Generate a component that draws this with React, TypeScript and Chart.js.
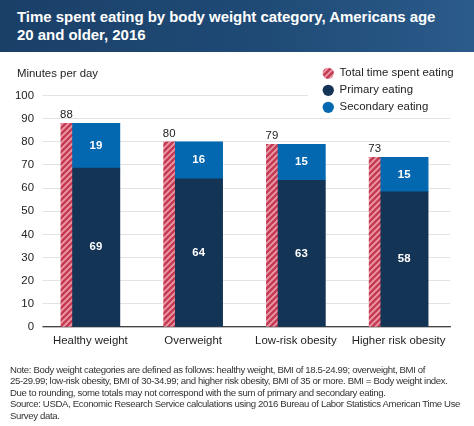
import { useEffect, useRef } from 'react';
import { Chart, registerables } from 'chart.js';

Chart.register(...registerables);

const categories = ['Healthy weight', 'Overweight', 'Low-risk obesity', 'Higher risk obesity'];
const totalEating = [88, 80, 78.9, 73.3];
const primaryEating = [68.6, 64, 63.4, 58.4];
const secondaryEating = [19.4, 16, 15.5, 14.9];
const totalLabels = ['88', '80', '79', '73'];
const primaryLabels = ['69', '64', '63', '58'];
const secondaryLabels = ['19', '16', '15', '15'];
const yTicks = [0, 10, 20, 30, 40, 50, 60, 70, 80, 90, 100];

const titleLines = ['Time spent eating by body weight category, Americans age', '20 and older, 2016'];
const noteLines = [
  'Note: Body weight categories are defined as follows: healthy weight, BMI of 18.5-24.99; overweight, BMI of',
  '25-29.99; low-risk obesity, BMI of 30-34.99; and higher risk obesity, BMI of 35 or more. BMI = Body weight index.',
  'Due to rounding, some totals may not correspond with the sum of primary and secondary eating.',
  'Source: USDA, Economic Research Service calculations using 2016 Bureau of Labor Statistics American Time Use',
  'Survey data.',
];

const FONT = '"Liberation Sans", Arial, sans-serif';
const SIZE = 11.4;
const NAVY = '#143456';
const BLUE = '#0468b1';

// diagonal red/pink stripes
const makeHatch = () => {
  const c = document.createElement('canvas');
  c.width = 6;
  c.height = 6;
  const g = c.getContext('2d')!;
  g.fillStyle = '#c33c54';
  g.fillRect(0, 0, 6, 6);
  g.strokeStyle = '#ee9aa8';
  g.lineWidth = 1.7;
  g.beginPath();
  g.moveTo(-1.5, 1.5);
  g.lineTo(1.5, -1.5);
  g.moveTo(-1.5, 7.5);
  g.lineTo(7.5, -1.5);
  g.moveTo(4.5, 7.5);
  g.lineTo(7.5, 4.5);
  g.stroke();
  return g.createPattern(c, 'repeat')!;
};

const layoutPlugin = {
  id: 'layoutTweaks',
  beforeLayout(chart: any) {
    // draw the legend above the white mask below
    const legend = chart.legend;
    legend._layers = () => [{ z: 1, draw: () => legend.draw() }];
  },
  afterLayout(chart: any) {
    // legend sits over the top right corner of the plot
    const legend = chart.legend;
    const w = legend.right - legend.left;
    legend.left = 317;
    legend.right = 317 + w;
    legend.top = 62;
  },
  beforeDatasetsDraw(chart: any) {
    // gridlines start clear of the tick labels and stop before the legend
    const { ctx, chartArea } = chart;
    ctx.save();
    ctx.fillStyle = '#fff';
    ctx.fillRect(chartArea.left - 1, chartArea.top - 2, 4.5, chartArea.bottom - chartArea.top + 4);
    ctx.fillRect(308, chartArea.top - 2, 170, 6);
    ctx.restore();
  },
};

const valueLabels = {
  id: 'valueLabels',
  afterDatasetsDraw(chart: any) {
    const { ctx } = chart;
    ctx.save();
    ctx.textAlign = 'center';
    ctx.textBaseline = 'middle';
    chart.getDatasetMeta(0).data.forEach((bar: any, i: number) => {
      ctx.font = `${SIZE}px ${FONT}`;
      ctx.fillStyle = '#222';
      ctx.fillText(totalLabels[i], bar.x, bar.y - 8);
    });
    [primaryLabels, secondaryLabels].forEach((labels, k) => {
      chart.getDatasetMeta(k + 1).data.forEach((bar: any, i: number) => {
        ctx.font = `bold ${SIZE}px ${FONT}`;
        ctx.fillStyle = '#fff';
        ctx.fillText(labels[i], bar.x, (bar.y + bar.base) / 2);
      });
    });
    ctx.restore();
  },
};

const App = () => {
  const chartRef = useRef<HTMLCanvasElement>(null);

  useEffect(() => {
    if (!chartRef.current) return;
    const hatch = makeHatch();
    const points = (values: number[]) => values.map((y, x) => ({ x, y }));

    const chart = new Chart(chartRef.current, {
      type: 'bar',
      data: {
        labels: categories,
        datasets: [
          {
            label: 'Total time spent eating',
            data: points(totalEating),
            backgroundColor: hatch,
            stack: 'total',
            barThickness: 11,
            xAxisID: 'bars',
          },
          {
            label: 'Primary eating',
            data: points(primaryEating),
            backgroundColor: NAVY,
            stack: 'parts',
            barThickness: 48,
            xAxisID: 'bars',
          },
          {
            label: 'Secondary eating',
            data: points(secondaryEating),
            backgroundColor: BLUE,
            stack: 'parts',
            barThickness: 48,
            xAxisID: 'bars',
          },
        ] as any,
      },
      options: {
        responsive: false,
        animation: false,
        events: [],
        layout: { padding: { left: 0, right: 24, top: 95.5, bottom: 0 } },
        scales: {
          x: {
            type: 'category',
            grid: { display: false, tickLength: 0 },
            border: { color: '#444', width: 1.2 },
            ticks: { color: '#222', font: { family: FONT, size: SIZE }, padding: 7, maxRotation: 0, autoSkip: false },
            afterFit: (s: any) => {
              s.height = 99;
            },
          },
          // the visible axis holds the labels, this one places the bars left of the label centre
          bars: {
            type: 'linear',
            axis: 'x',
            display: false,
            offset: false,
            min: -0.32,
            max: 3.68,
          },
          y: {
            stacked: true,
            min: 0,
            max: 100,
            border: { display: false },
            grid: { color: '#e3e3e3', lineWidth: 1, tickLength: 0 },
            afterBuildTicks: (s: any) => {
              s.ticks = yTicks.map((value) => ({ value }));
            },
            ticks: { color: '#222', font: { family: FONT, size: SIZE }, padding: 5 },
            afterFit: (s: any) => {
              s.width = 39;
            },
          },
        },
        plugins: {
          tooltip: { enabled: false },
          legend: {
            position: 'chartArea',
            align: 'start',
            labels: {
              usePointStyle: true,
              pointStyle: 'circle',
              pointStyleWidth: 11.3,
              boxHeight: 8,
              padding: 5.6,
              color: '#222',
              font: { family: FONT, size: SIZE },
            },
          },
        },
      } as any,
      plugins: [layoutPlugin, valueLabels],
    });

    return () => chart.destroy();
  }, []);

  return (
    <div style={{ position: 'absolute', left: 0, top: 0, width: 474, height: 426, background: '#fff', overflow: 'hidden', fontFamily: FONT }}>
      <canvas ref={chartRef} width={474} height={426} style={{ position: 'absolute', left: 0, top: 0 }} />
      <div
        style={{
          position: 'absolute',
          left: 0,
          top: 0,
          width: 474,
          height: 52,
          background: 'linear-gradient(90deg, #1a4068 0%, #1f4a76 55%, #2b5b8a 100%)',
          color: '#fff',
          fontWeight: 'bold',
          fontSize: 15,
          lineHeight: '18px',
          letterSpacing: -0.04,
          paddingTop: 8,
          paddingLeft: 17,
          boxSizing: 'border-box',
        }}
      >
        {titleLines.map((t) => (
          <div key={t} style={{ whiteSpace: 'nowrap' }}>{t}</div>
        ))}
      </div>
      <div style={{ position: 'absolute', left: 17, top: 66, fontSize: SIZE, lineHeight: '15px', color: '#222' }}>Minutes per day</div>
      <div style={{ position: 'absolute', left: 10, top: 364, fontSize: 9.6, letterSpacing: -0.36, lineHeight: '11.4px', color: '#333' }}>
        {noteLines.map((t) => (
          <div key={t} style={{ whiteSpace: 'nowrap' }}>{t}</div>
        ))}
      </div>
    </div>
  );
};

export default App;
